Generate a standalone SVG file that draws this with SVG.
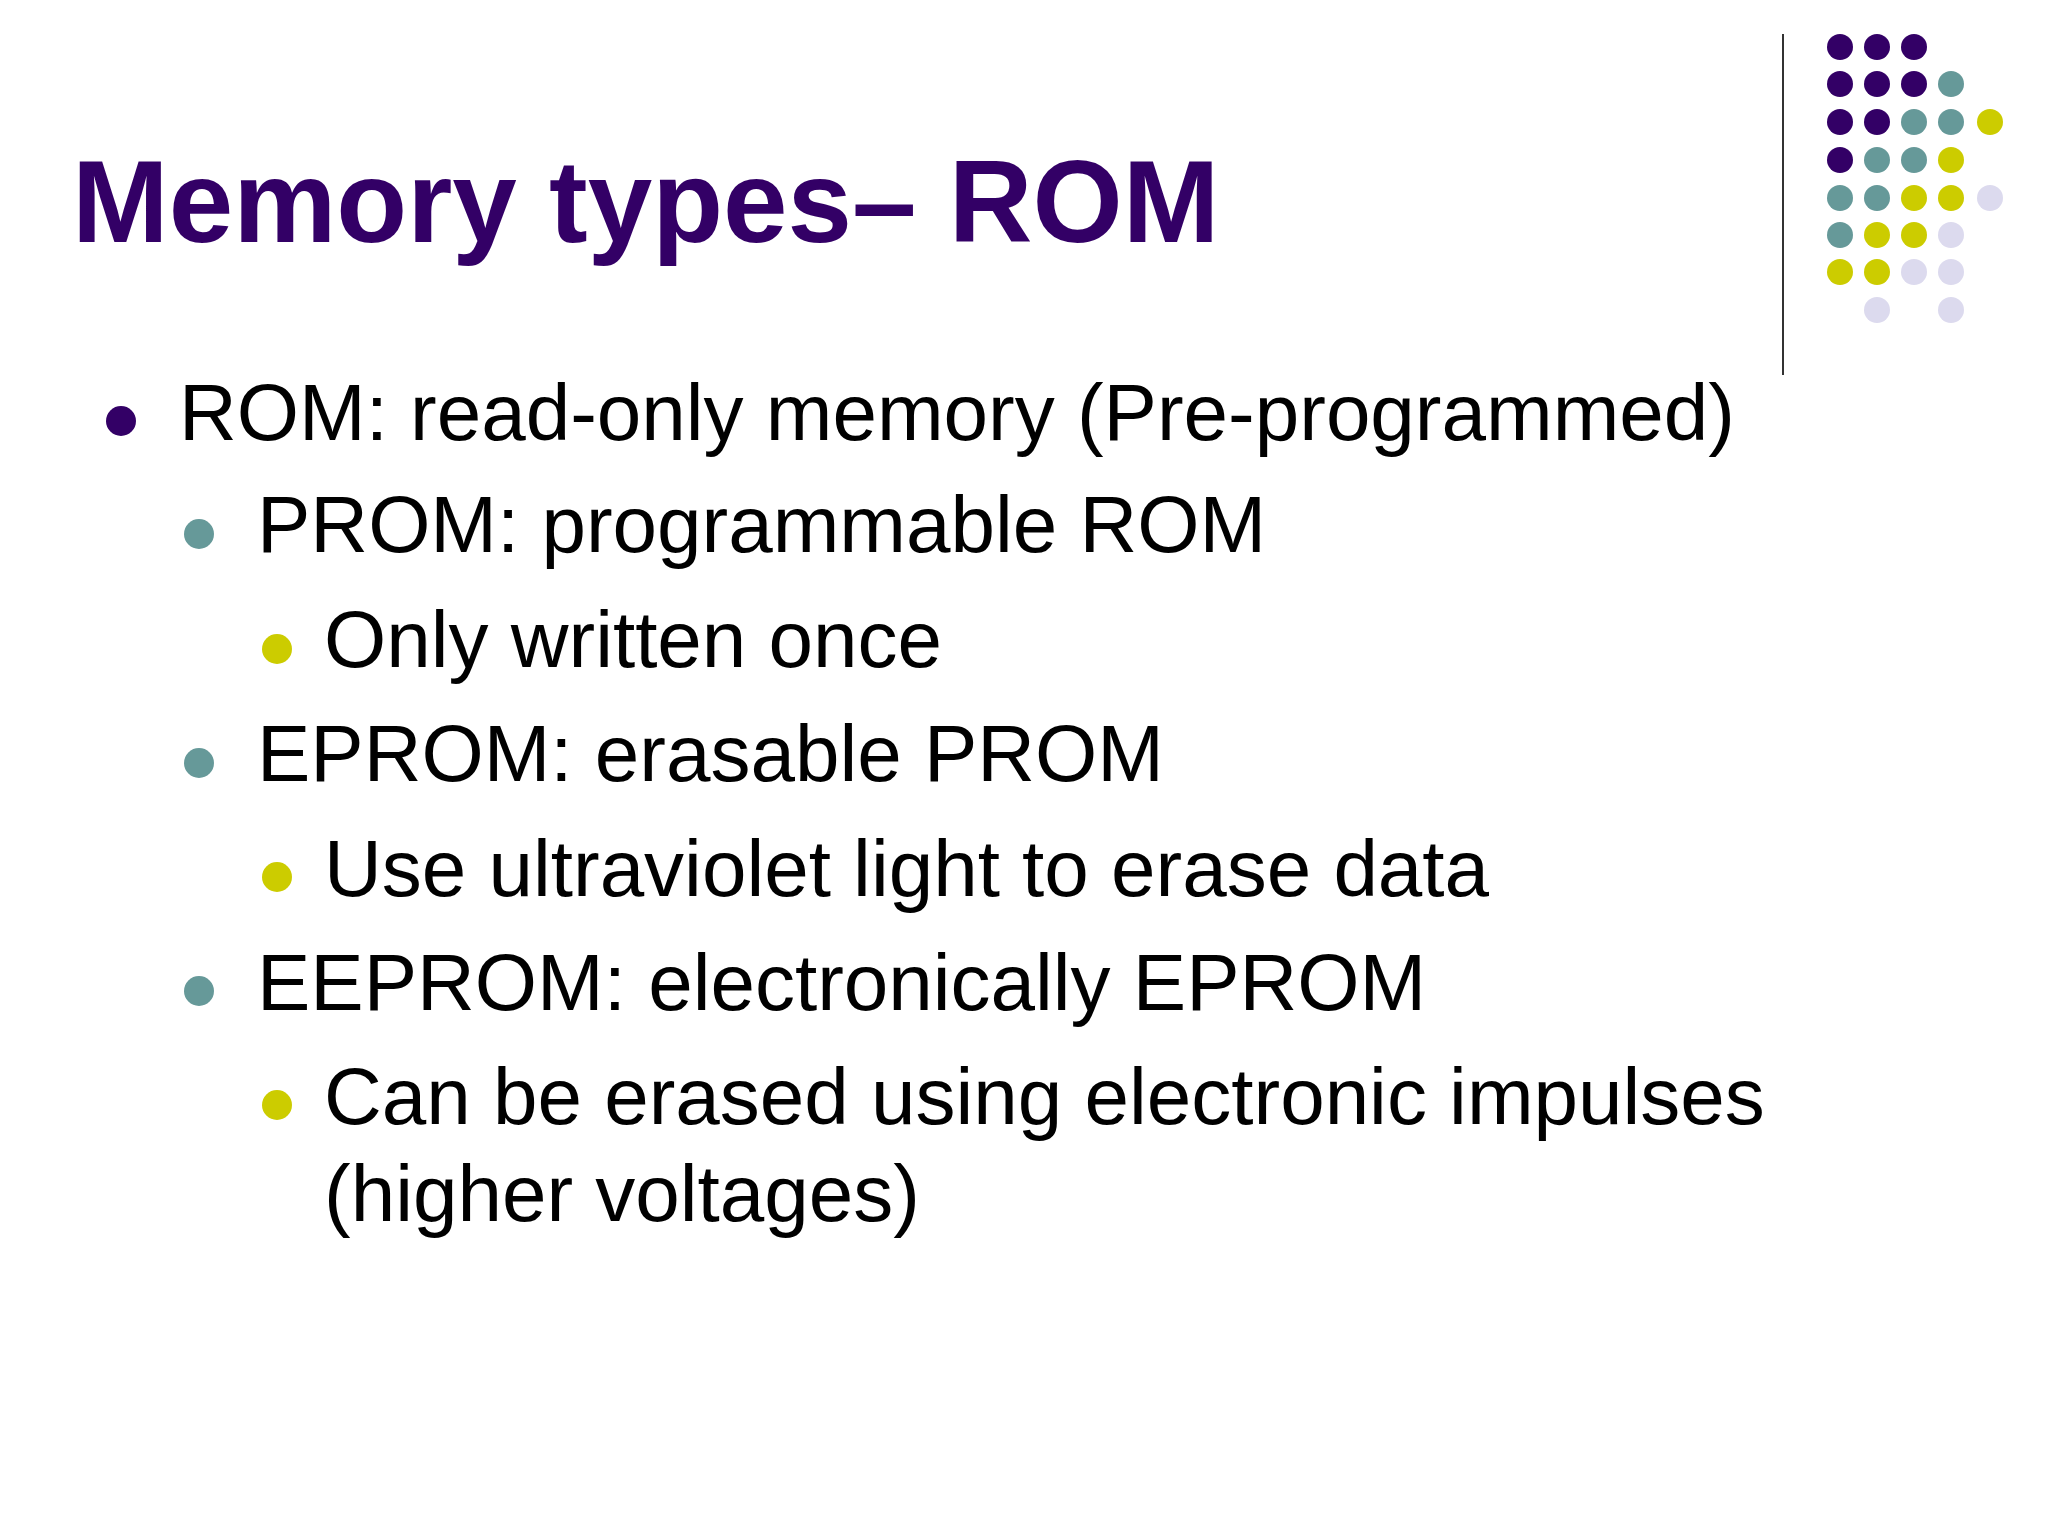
<svg xmlns="http://www.w3.org/2000/svg" width="2048" height="1536" viewBox="0 0 2048 1536">
<style>
.t{font-family:"Liberation Sans",Arial,sans-serif;fill:#000;font-size:80px}
.p{fill:#330066}.g{fill:#669999}.y{fill:#cccc00}.l{fill:#dcdaee}
</style>
<rect width="2048" height="1536" fill="#fff"/>
<line x1="1783" y1="34" x2="1783" y2="375" stroke="#333" stroke-width="2"/>
<g id="dots">
<circle class="p" cx="1840" cy="47" r="13"/><circle class="p" cx="1877" cy="47" r="13"/><circle class="p" cx="1914" cy="47" r="13"/>
<circle class="p" cx="1840" cy="84" r="13"/><circle class="p" cx="1877" cy="84" r="13"/><circle class="p" cx="1914" cy="84" r="13"/><circle class="g" cx="1951" cy="84" r="13"/>
<circle class="p" cx="1840" cy="122" r="13"/><circle class="p" cx="1877" cy="122" r="13"/><circle class="g" cx="1914" cy="122" r="13"/><circle class="g" cx="1951" cy="122" r="13"/><circle class="y" cx="1990" cy="122" r="13"/>
<circle class="p" cx="1840" cy="160" r="13"/><circle class="g" cx="1877" cy="160" r="13"/><circle class="g" cx="1914" cy="160" r="13"/><circle class="y" cx="1951" cy="160" r="13"/>
<circle class="g" cx="1840" cy="198" r="13"/><circle class="g" cx="1877" cy="198" r="13"/><circle class="y" cx="1914" cy="198" r="13"/><circle class="y" cx="1951" cy="198" r="13"/><circle class="l" cx="1990" cy="198" r="13"/>
<circle class="g" cx="1840" cy="235" r="13"/><circle class="y" cx="1877" cy="235" r="13"/><circle class="y" cx="1914" cy="235" r="13"/><circle class="l" cx="1951" cy="235" r="13"/>
<circle class="y" cx="1840" cy="272" r="13"/><circle class="y" cx="1877" cy="272" r="13"/><circle class="l" cx="1914" cy="272" r="13"/><circle class="l" cx="1951" cy="272" r="13"/>
<circle class="l" cx="1877" cy="310" r="13"/><circle class="l" cx="1951" cy="310" r="13"/>
</g>
<text id="title" x="72" y="242" font-family="'Liberation Sans',Arial,sans-serif" font-weight="bold" font-size="116" fill="#330066">Memory types– ROM</text>
<g id="bullets">
<circle class="p" cx="121" cy="421" r="15"/>
<circle class="g" cx="199" cy="534" r="15"/>
<circle class="y" cx="277" cy="649" r="15"/>
<circle class="g" cx="199" cy="763" r="15"/>
<circle class="y" cx="277" cy="877" r="15"/>
<circle class="g" cx="199" cy="991" r="15"/>
<circle class="y" cx="277" cy="1105" r="15"/>
</g>
<g id="texts">
<text class="t" x="179" y="440">ROM: read-only memory (Pre-programmed)</text>
<text class="t" x="257" y="552">PROM: programmable ROM</text>
<text class="t" x="324" y="667">Only written once</text>
<text class="t" x="257" y="781">EPROM: erasable PROM</text>
<text class="t" x="324" y="896">Use ultraviolet light to erase data</text>
<text class="t" x="257" y="1010">EEPROM: electronically EPROM</text>
<text class="t" x="324" y="1124">Can be erased using electronic impulses</text>
<text class="t" x="324" y="1221">(higher voltages)</text>
</g>
</svg>
